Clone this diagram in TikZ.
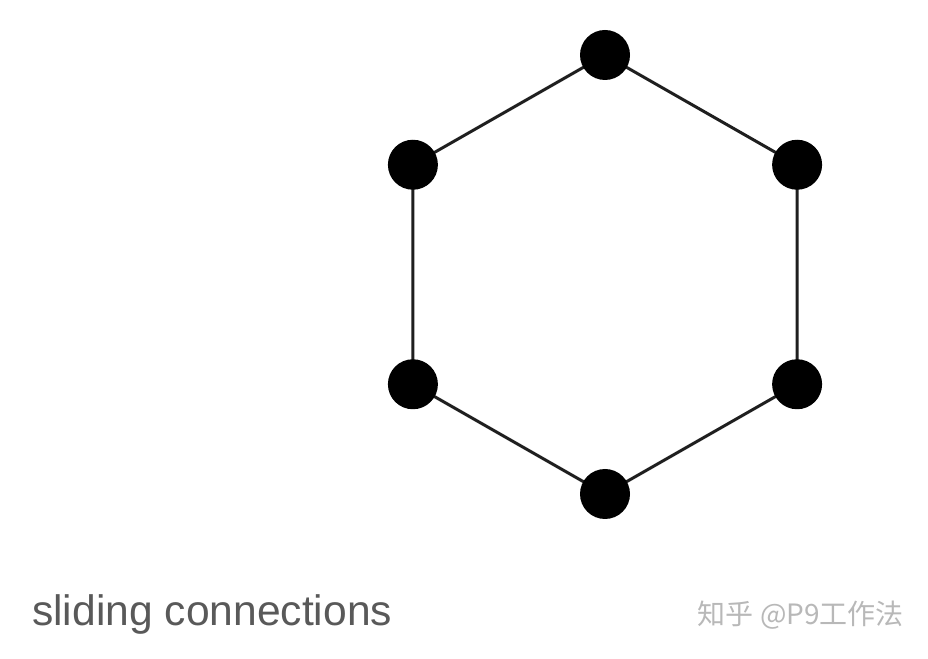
\documentclass[tikz,border=0pt]{standalone}
\usepackage{fontspec}
\setmainfont{Liberation Sans}
\newfontfamily\cjk{Noto Sans CJK SC}
\definecolor{captiongray}{HTML}{595959}
\definecolor{markgray}{HTML}{B8B8B8}
\tikzset{
	vertex/.style={circle,fill=black,inner sep=0pt,minimum size=50pt},
	edge/.style={line width=3pt,color=black!88},
}
\begin{document}
\begin{tikzpicture}
			\useasboundingbox (0,0) rectangle (928pt,658pt);
			\coordinate (O) at (605pt,383.5pt);
			\def\R{219.5pt};
			% hexagon corners
			\path (O) ++(90:\R) coordinate (top);
			\path (O) ++(150:\R) ++(-2pt,0) coordinate (upleft);
			\path (O) ++(210:\R) ++(-2pt,0) coordinate (lowleft);
			\path (O) ++(270:\R) coordinate (bottom);
			\path (O) ++(330:\R) ++(2pt,0) coordinate (lowright);
			\path (O) ++(30:\R) ++(2pt,0) coordinate (upright);
			\draw[edge] (top) -- (upleft) -- (lowleft) -- (bottom) -- (lowright) -- (upright) -- cycle;
			\foreach \v in {top,upleft,lowleft,bottom,lowright,upright}
				\node[vertex] (dot-\v) at (\v) {};
			
			\node[anchor=base west,inner sep=0pt,text=captiongray,font=\fontsize{42.6}{46}\selectfont] (caption) at (32pt,33pt) {sliding connections};
			\node[anchor=east,inner sep=0pt,text=markgray,font=\cjk\fontsize{28}{32}\selectfont] (mark) at (904pt,43pt) {知乎 @P9工作法};
			
		\end{tikzpicture}
\end{document}
